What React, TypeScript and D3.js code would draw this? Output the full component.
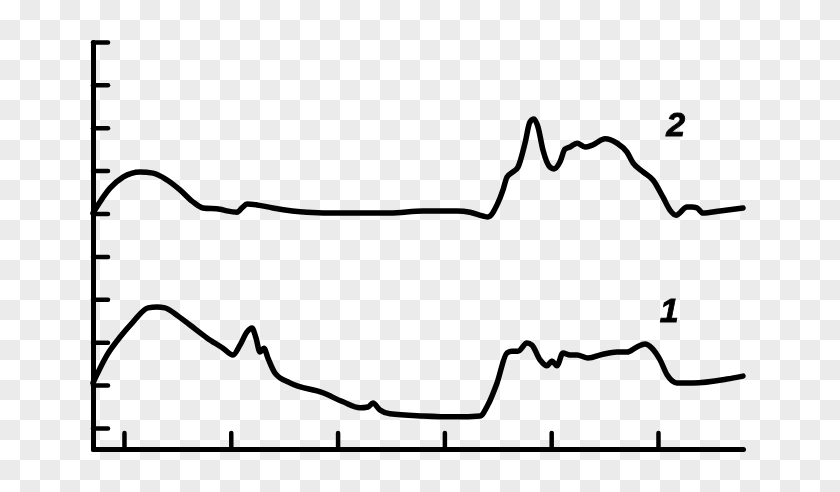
import React from 'react';
import * as d3 from 'd3';

type Pt = [number, number];

// curve "2" (upper trace)
const series2: Pt[] = [
  [0.71, 6.01], [0.869, 6.59], [0.991, 6.85], [1.15, 6.97], [1.272, 6.94], [1.403, 6.78],
  [1.524, 6.55], [1.646, 6.27], [1.74, 6.13], [1.899, 6.1], [1.964, 6.06], [2.058, 6.03],
  [2.105, 6.13], [2.152, 6.22], [2.245, 6.2], [2.395, 6.13], [2.713, 6.03], [3.022, 6.01],
  [3.491, 6.01], [3.8, 6.06], [4.118, 6.06], [4.24, 6.03], [4.361, 5.94], [4.408, 5.92],
  [4.493, 6.2], [4.549, 6.55], [4.586, 6.85], [4.642, 6.97], [4.689, 7.08], [4.755, 7.64],
  [4.801, 8.13], [4.839, 8.2], [4.876, 8.02], [4.923, 7.48], [4.989, 7.08], [5.026, 7.04],
  [5.082, 7.2], [5.129, 7.5], [5.176, 7.55], [5.242, 7.64], [5.316, 7.55], [5.391, 7.6],
  [5.504, 7.74], [5.616, 7.64], [5.71, 7.43], [5.766, 7.18], [5.86, 6.97], [5.953, 6.78],
  [6.047, 6.38], [6.112, 6.08], [6.169, 5.96], [6.272, 6.15], [6.318, 6.15], [6.365, 6.13],
  [6.421, 6.01], [6.581, 6.06], [6.796, 6.13],
];

// curve "1" (lower trace)
const series1: Pt[] = [
  [0.71, 2.05], [0.841, 2.7], [0.963, 3.12], [1.084, 3.47], [1.225, 3.8], [1.309, 3.82],
  [1.384, 3.8], [1.496, 3.63], [1.618, 3.4], [1.777, 3.1], [1.927, 2.86], [2.021, 2.7],
  [2.086, 2.93], [2.152, 3.24], [2.199, 3.33], [2.236, 3.1], [2.273, 2.77], [2.311, 2.86],
  [2.348, 2.63], [2.414, 2.28], [2.554, 2.05], [2.863, 1.82], [3.051, 1.61], [3.21, 1.47],
  [3.285, 1.49], [3.331, 1.58], [3.397, 1.42], [3.491, 1.33], [3.8, 1.28], [4.118, 1.26],
  [4.333, 1.28], [4.408, 1.54], [4.493, 2.05], [4.586, 2.75], [4.633, 2.79], [4.689, 2.79],
  [4.773, 2.98], [4.82, 2.93], [4.895, 2.59], [4.961, 2.45], [5.007, 2.56], [5.054, 2.45],
  [5.11, 2.75], [5.176, 2.7], [5.242, 2.7], [5.345, 2.63], [5.485, 2.72], [5.616, 2.77],
  [5.71, 2.77], [5.803, 2.89], [5.878, 2.96], [5.944, 2.86], [6.019, 2.59], [6.085, 2.24],
  [6.178, 2.05], [6.328, 2.05], [6.646, 2.14], [6.796, 2.21],
];

const xTicks = [1, 2, 3, 4, 5, 6];
const yTicks = [1, 2, 3, 4, 5, 6, 7, 8, 9, 10];
const labels = [
  { text: '2', x: 6.165, y: 7.81 },
  { text: '1', x: 6.105, y: 3.47 },
];

const W = 840;
const H = 492;

export default function App() {
  const xAxisRef = React.useRef<SVGGElement>(null);
  const yAxisRef = React.useRef<SVGGElement>(null);

  const x = d3.scaleLinear([0.71, 6.796], [93, 743]);
  const y = d3.scaleLinear([0.51, 10], [449, 41.9]);

  const line = d3
    .line<Pt>()
    .x((d) => x(d[0]))
    .y((d) => y(d[1]))
    .curve(d3.curveMonotoneX);

  React.useEffect(() => {
    const xa = d3.select(xAxisRef.current!);
    xa.call(
      d3.axisBottom(x).tickValues(xTicks).tickSizeInner(-16).tickSizeOuter(0).tickFormat(() => ''),
    );
    const ya = d3.select(yAxisRef.current!);
    ya.call(
      d3.axisLeft(y).tickValues(yTicks).tickSizeInner(-15).tickSizeOuter(0).tickFormat(() => ''),
    );
    // heavy black strokes, like the scanned figure
    [xa, ya].forEach((g) => {
      g.select('.domain').attr('stroke', '#000').attr('stroke-width', 5).attr('stroke-linecap', 'round');
      g.selectAll('.tick line').attr('stroke', '#000').attr('stroke-width', 4.5).attr('stroke-linecap', 'round');
    });
  }, []);

  return (
    <svg width={W} height={H} style={{ position: 'fixed', left: 0, top: 0 }}>
      <defs>
        <pattern id="checker" width={40} height={40} patternUnits="userSpaceOnUse">
          <rect width={40} height={40} fill="#ffffff" />
          <rect x={20} y={0} width={20} height={20} fill="#ebebeb" />
          <rect x={0} y={20} width={20} height={20} fill="#ebebeb" />
        </pattern>
      </defs>
      <rect width={W} height={H} fill="url(#checker)" />

      <g ref={xAxisRef} transform={`translate(0,${y(0.51)})`} />
      <g ref={yAxisRef} transform={`translate(${x(0.71)},0)`} />

      {[series2, series1].map((s, i) => (
        <path
          key={i}
          d={line(s) ?? ''}
          fill="none"
          stroke="#000"
          strokeWidth={5.5}
          strokeLinejoin="round"
          strokeLinecap="round"
        />
      ))}

      {labels.map((l) => (
        <text
          key={l.text}
          x={x(l.x)}
          y={y(l.y)}
          textAnchor="middle"
          fontFamily="'Liberation Sans', Arial, sans-serif"
          fontWeight="bold"
          fontStyle="italic"
          fontSize={34}
          fill="#000"
          stroke="#000"
          strokeWidth={0.8}
        >
          {l.text}
        </text>
      ))}
    </svg>
  );
}
